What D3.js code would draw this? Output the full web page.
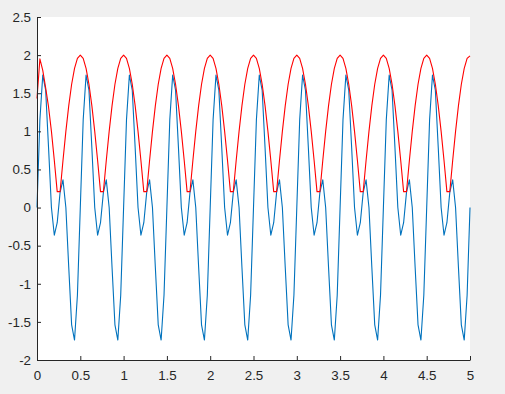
<!DOCTYPE html>
<html>
<head>
<meta charset="utf-8">
<script src="https://cdn.jsdelivr.net/npm/d3@7"></script>
<style>
  html, body { margin: 0; padding: 0; background: #f0f0f0; }
  svg { display: block; }
</style>
</head>
<body>
<div id="chart"></div>
<script>
// Samples taken every 1/30 s from t = 0 to t = 5 (151 samples)
const sampleRate = 30;

// Blue series (signal)
const signal = [
  0, 1.150, 1.738, 1.539, 0.787, 0, -0.363, -0.199, 0.199, 0.363, 0, -0.787, -1.539, -1.738, -1.150,
  0, 1.150, 1.738, 1.539, 0.787, 0, -0.363, -0.199, 0.199, 0.363, 0, -0.787, -1.539, -1.738, -1.150,
  0, 1.150, 1.738, 1.539, 0.787, 0, -0.363, -0.199, 0.199, 0.363, 0, -0.787, -1.539, -1.738, -1.150,
  0, 1.150, 1.738, 1.539, 0.787, 0, -0.363, -0.199, 0.199, 0.363, 0, -0.787, -1.539, -1.738, -1.150,
  0, 1.150, 1.738, 1.539, 0.787, 0, -0.363, -0.199, 0.199, 0.363, 0, -0.787, -1.539, -1.738, -1.150,
  0, 1.150, 1.738, 1.539, 0.787, 0, -0.363, -0.199, 0.199, 0.363, 0, -0.787, -1.539, -1.738, -1.150,
  0, 1.150, 1.738, 1.539, 0.787, 0, -0.363, -0.199, 0.199, 0.363, 0, -0.787, -1.539, -1.738, -1.150,
  0, 1.150, 1.738, 1.539, 0.787, 0, -0.363, -0.199, 0.199, 0.363, 0, -0.787, -1.539, -1.738, -1.150,
  0, 1.150, 1.738, 1.539, 0.787, 0, -0.363, -0.199, 0.199, 0.363, 0, -0.787, -1.539, -1.738, -1.150,
  0, 1.150, 1.738, 1.539, 0.787, 0, -0.363, -0.199, 0.199, 0.363, 0, -0.787, -1.539, -1.738, -1.150,
  0
];

// Red series (envelope)
const envelope = [
  1.43, 1.95, 1.80, 1.57, 1.32, 1.000, 0.618, 0.209, 0.209, 0.618, 1.000, 1.338, 1.618, 1.827, 1.956,
  2.000, 1.956, 1.827, 1.618, 1.338, 1.000, 0.618, 0.209, 0.209, 0.618, 1.000, 1.338, 1.618, 1.827, 1.956,
  2.000, 1.956, 1.827, 1.618, 1.338, 1.000, 0.618, 0.209, 0.209, 0.618, 1.000, 1.338, 1.618, 1.827, 1.956,
  2.000, 1.956, 1.827, 1.618, 1.338, 1.000, 0.618, 0.209, 0.209, 0.618, 1.000, 1.338, 1.618, 1.827, 1.956,
  2.000, 1.956, 1.827, 1.618, 1.338, 1.000, 0.618, 0.209, 0.209, 0.618, 1.000, 1.338, 1.618, 1.827, 1.956,
  2.000, 1.956, 1.827, 1.618, 1.338, 1.000, 0.618, 0.209, 0.209, 0.618, 1.000, 1.338, 1.618, 1.827, 1.956,
  2.000, 1.956, 1.827, 1.618, 1.338, 1.000, 0.618, 0.209, 0.209, 0.618, 1.000, 1.338, 1.618, 1.827, 1.956,
  2.000, 1.956, 1.827, 1.618, 1.338, 1.000, 0.618, 0.209, 0.209, 0.618, 1.000, 1.338, 1.618, 1.827, 1.956,
  2.000, 1.956, 1.827, 1.618, 1.338, 1.000, 0.618, 0.209, 0.209, 0.618, 1.000, 1.338, 1.618, 1.827, 1.956,
  2.000, 1.956, 1.827, 1.618, 1.338, 1.000, 0.618, 0.209, 0.209, 0.618, 1.000, 1.338, 1.618, 1.827, 1.956,
  1.99
];

const xTicks = [0, 0.5, 1, 1.5, 2, 2.5, 3, 3.5, 4, 4.5, 5];
const xTickLabels = ["0", "0.5", "1", "1.5", "2", "2.5", "3", "3.5", "4", "4.5", "5"];
const yTicks = [-2, -1.5, -1, -0.5, 0, 0.5, 1, 1.5, 2, 2.5];
const yTickLabels = ["-2", "-1.5", "-1", "-0.5", "0", "0.5", "1", "1.5", "2", "2.5"];

(function () {
  const W = 505, H = 394;
  const pLeft = 37, pRight = 470, pTop = 17, pBottom = 360;

  const svg = d3.select("#chart").append("svg")
    .attr("width", W).attr("height", H);

  svg.append("rect").attr("width", W).attr("height", H).attr("fill", "#f0f0f0");
  svg.append("rect")
    .attr("x", pLeft).attr("y", pTop)
    .attr("width", pRight - pLeft).attr("height", pBottom - pTop)
    .attr("fill", "#ffffff");

  const x = d3.scaleLinear().domain([0, 5]).range([pLeft, pRight]);
  const y = d3.scaleLinear().domain([-2, 2.5]).range([pBottom, pTop]);

  const line = d3.line()
    .x((d, i) => x(i / sampleRate))
    .y(d => y(d));

  svg.append("path")
    .datum(signal)
    .attr("fill", "none")
    .attr("stroke", "#0072bd")
    .attr("stroke-width", 1.1)
    .attr("stroke-linejoin", "round")
    .attr("d", line);

  svg.append("path")
    .datum(envelope)
    .attr("fill", "none")
    .attr("stroke", "#ff0000")
    .attr("stroke-width", 1.1)
    .attr("stroke-linejoin", "round")
    .attr("d", line);

  const axisColor = "#262626";
  const font = "'Liberation Sans', Arial, Helvetica, sans-serif";

  const xAxis = d3.axisBottom(x)
    .tickValues(xTicks)
    .tickFormat((d, i) => xTickLabels[i])
    .tickSizeInner(-4)
    .tickSizeOuter(0)
    .tickPadding(11);

  const gx = svg.append("g")
    .attr("transform", `translate(0,${pBottom})`)
    .call(xAxis);

  const yAxis = d3.axisLeft(y)
    .tickValues(yTicks)
    .tickFormat((d, i) => yTickLabels[i])
    .tickSizeInner(-4)
    .tickSizeOuter(0)
    .tickPadding(6);

  const gy = svg.append("g")
    .attr("transform", `translate(${pLeft},0)`)
    .call(yAxis);

  [gx, gy].forEach(g => {
    g.select(".domain").attr("stroke", axisColor);
    g.selectAll(".tick line").attr("stroke", axisColor);
    g.selectAll(".tick text")
      .attr("fill", axisColor)
      .style("font-family", font)
      .style("font-size", "13.33px");
  });
})();
</script>
</body>
</html>
